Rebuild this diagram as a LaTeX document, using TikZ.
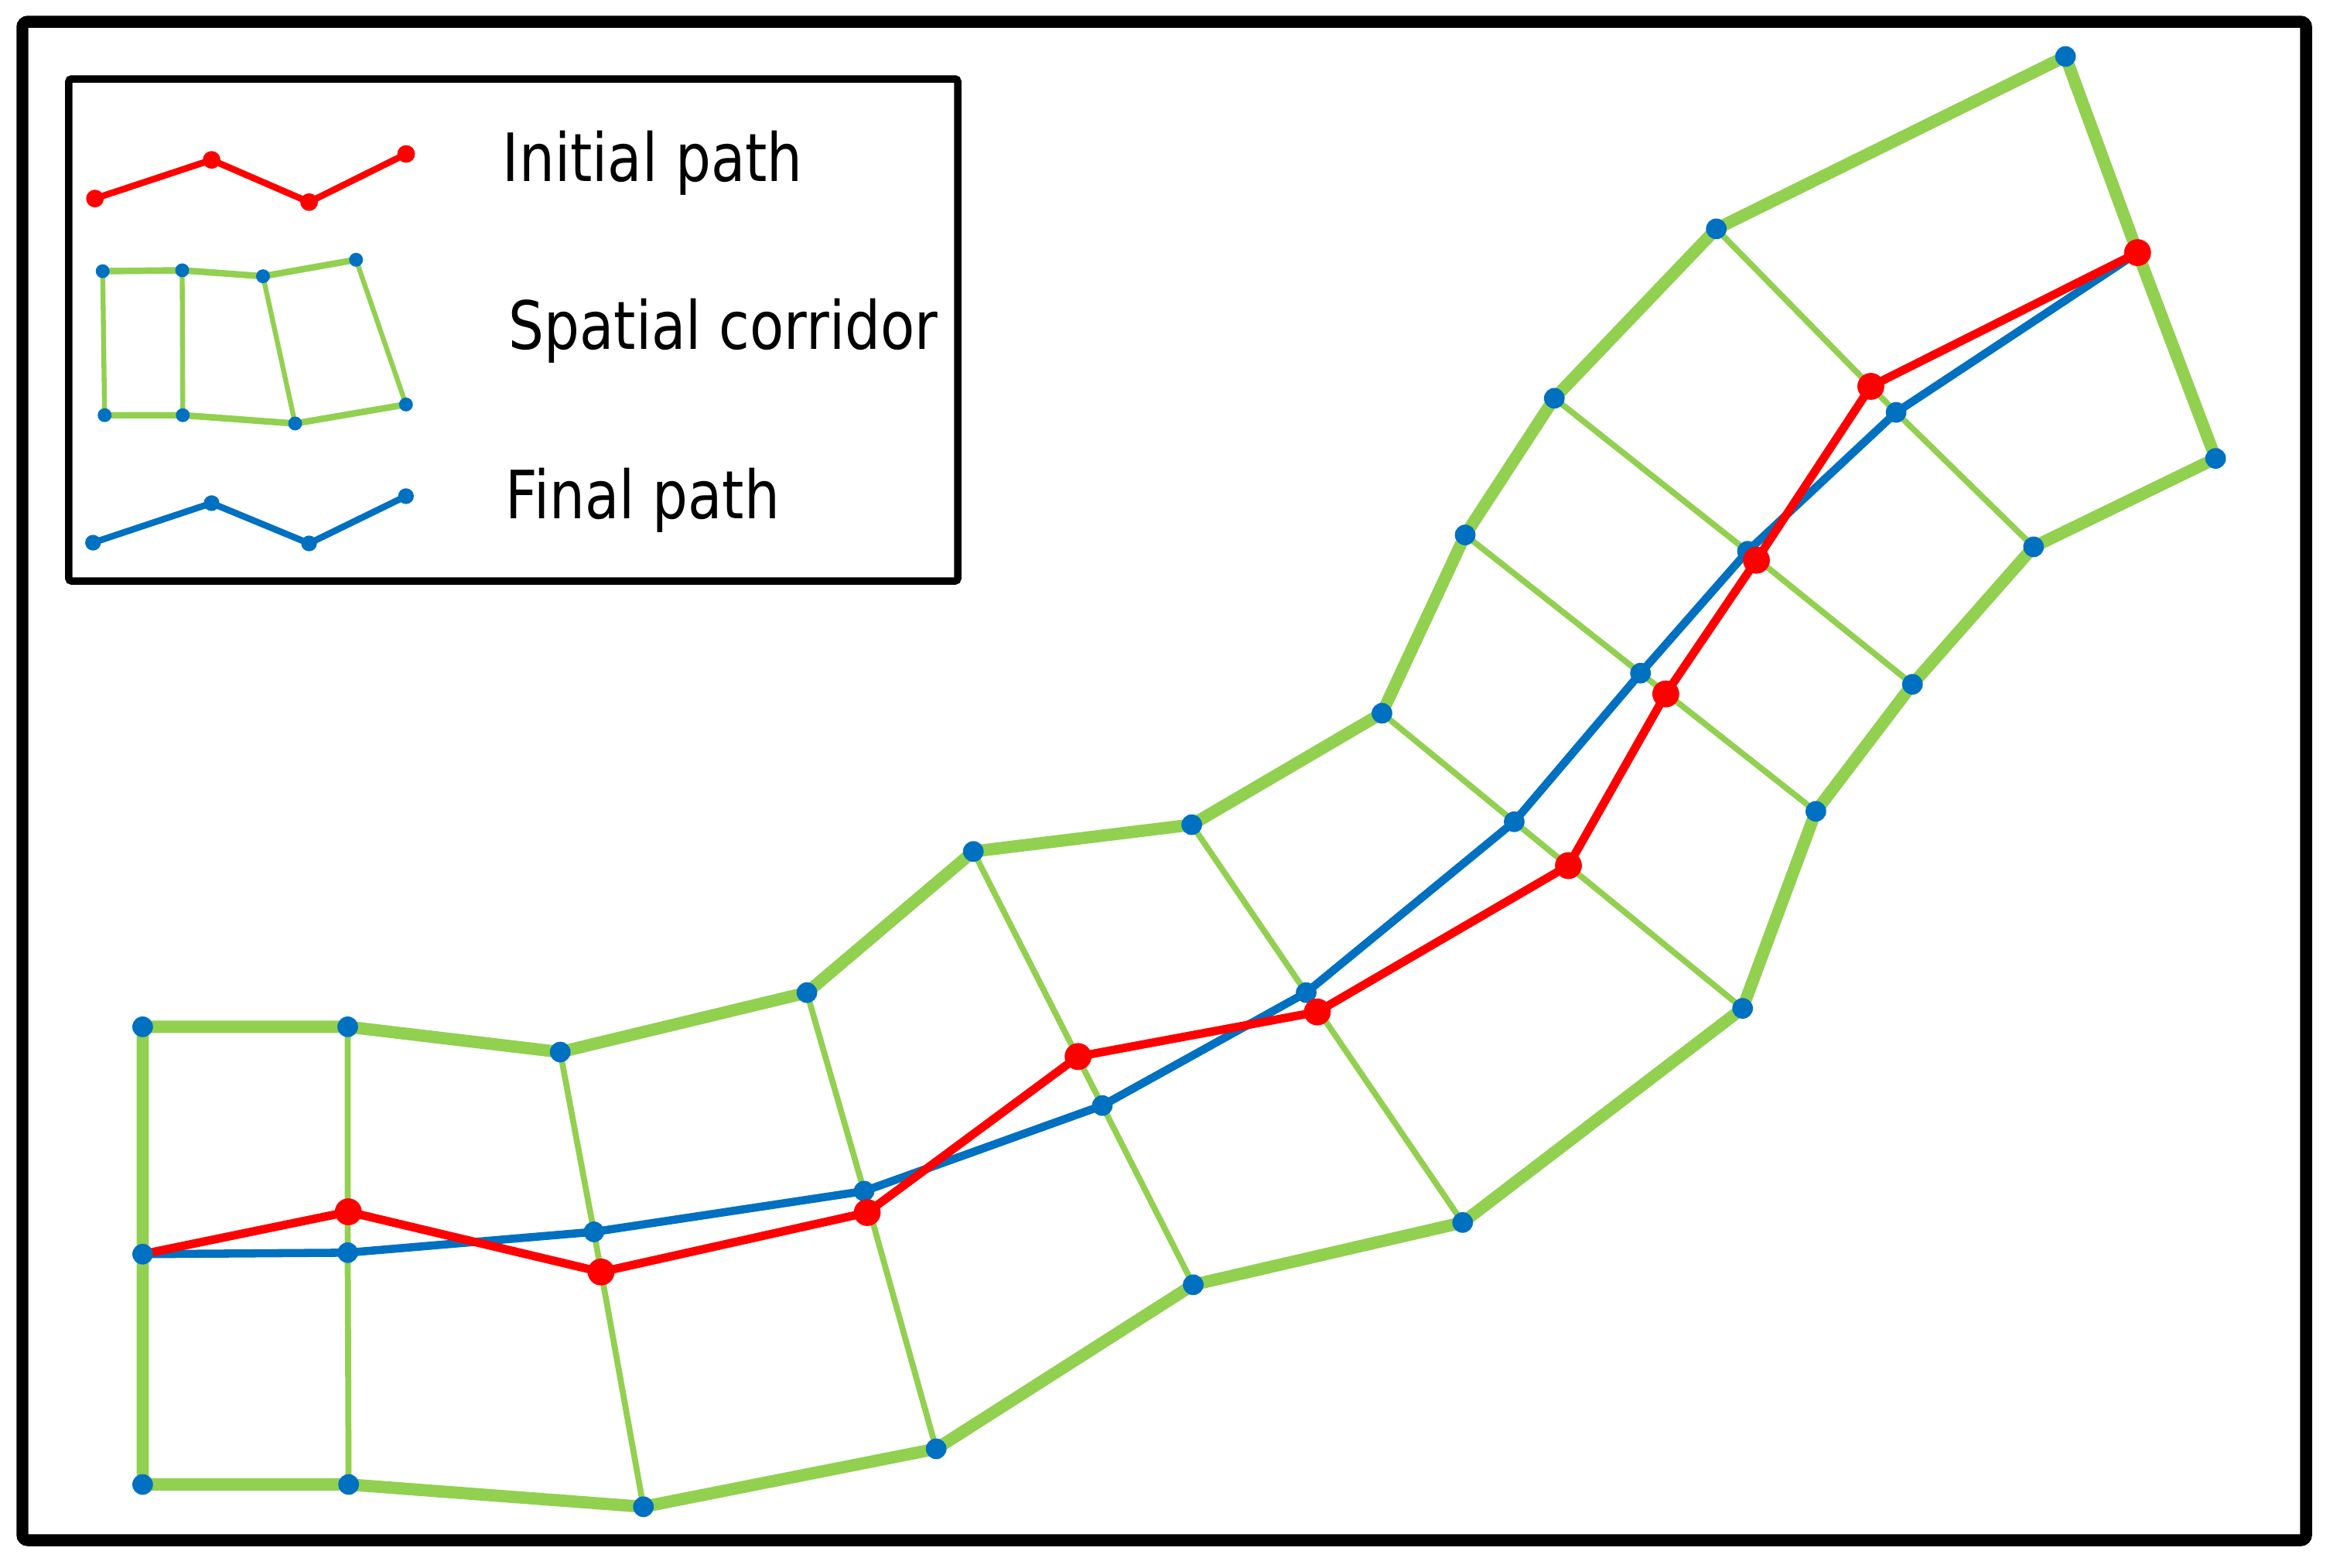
\documentclass[tikz,border=0pt]{standalone}
\usepackage{fontspec}
\newfontfamily\legfont{DejaVu Sans}[FakeStretch=0.84]
\definecolor{cgreen}{HTML}{92D050}
\definecolor{cblue}{HTML}{0070C0}
\definecolor{cred}{HTML}{FF0000}
\begin{document}
\begin{tikzpicture}[x=0.019209cm,y=-0.019209cm,
  frame/.style={draw=black,line width=4.4pt,rounded corners=2pt},
  legframe/.style={draw=black,line width=2.7pt,rounded corners=1pt},
  wall/.style={draw=cgreen,line width=4.5pt,line cap=round,line join=round},
  rung/.style={draw=cgreen,line width=2.2pt,line cap=round},
  bpath/.style={draw=cblue,line width=3.0pt,line cap=round,line join=round},
  rpath/.style={draw=cred,line width=3.1pt,line cap=round,line join=round},
  bdot/.style={circle,fill=cblue,inner sep=0pt,minimum size=7.6pt},
  rdot/.style={circle,fill=cred,inner sep=0pt,minimum size=9.9pt},
  lwall/.style={draw=cgreen,line width=2.4pt,line cap=round},
  lrung/.style={draw=cgreen,line width=1.8pt,line cap=round},
  lbpath/.style={draw=cblue,line width=2.4pt,line cap=round,line join=round},
  lrpath/.style={draw=cred,line width=2.4pt,line cap=round,line join=round},
  lcdot/.style={circle,fill=cblue,inner sep=0pt,minimum size=5.1pt},
  lbdot/.style={circle,fill=cblue,inner sep=0pt,minimum size=5.8pt},
  lrdot/.style={circle,fill=cred,inner sep=0pt,minimum size=6.5pt},
  legtext/.style={anchor=base west,inner sep=0pt,font=\legfont\fontsize{24.5pt}{28pt}\selectfont}]
\useasboundingbox (0,0) rectangle (1568,1054.7);
% outer frame
\draw[frame] (15.1,14.6) rectangle (1551.9,1036.5);
% corridor coordinates
\coordinate (t0) at (96,691);
\coordinate (t1) at (234,691);
\coordinate (t2) at (377,708);
\coordinate (t3) at (543,668);
\coordinate (t4) at (655,573);
\coordinate (t5) at (802,555);
\coordinate (t6) at (930,480);
\coordinate (t7) at (986,360);
\coordinate (t8) at (1046,268);
\coordinate (t9) at (1155,154);
\coordinate (t10) at (1390,38);
\coordinate (m0) at (96,844);
\coordinate (m1) at (234,843);
\coordinate (m2) at (399.7,829);
\coordinate (m3) at (581.5,801.6);
\coordinate (m4) at (741.8,744);
\coordinate (m5) at (879,668);
\coordinate (m6) at (1019,553);
\coordinate (m7) at (1104,453);
\coordinate (m8) at (1176,371);
\coordinate (m9) at (1276,277.5);
\coordinate (m10) at (1438.5,170);
\coordinate (b0) at (96,999);
\coordinate (b1) at (234.6,999);
\coordinate (b2) at (433,1014);
\coordinate (b3) at (630,975);
\coordinate (b4) at (803,864.6);
\coordinate (b5) at (984.3,822.7);
\coordinate (b6) at (1172.7,678.6);
\coordinate (b7) at (1222,546);
\coordinate (b8) at (1287,460.5);
\coordinate (b9) at (1368.5,368);
\coordinate (b10) at (1491,308.5);
% initial path points
\coordinate (r1) at (234.4,815.5);
\coordinate (r2) at (404.5,856);
\coordinate (r3) at (583.6,816);
\coordinate (r4) at (725.5,711);
\coordinate (r5) at (886.5,681);
\coordinate (r6) at (1055.5,582.5);
\coordinate (r7) at (1121,467);
\coordinate (r8) at (1182,377);
\coordinate (r9) at (1259,260);
% corridor rungs
\foreach \i in {1,...,9}{\draw[rung] (t\i) -- (m\i) -- (b\i);}
% corridor walls
\draw[wall] (b0) -- (m0) -- (t0) -- (t1) -- (t2) -- (t3) -- (t4) -- (t5) -- (t6) -- (t7) -- (t8) -- (t9) -- (t10) -- (m10) -- (b10) -- (b9) -- (b8) -- (b7) -- (b6) -- (b5) -- (b4) -- (b3) -- (b2) -- (b1) -- (b0);
% final path
\draw[bpath] (m0) -- (m1) -- (m2) -- (m3) -- (m4) -- (m5) -- (m6) -- (m7) -- (m8) -- (m9) -- (m10);
% initial path
\draw[rpath] (m0) -- (r1) -- (r2) -- (r3) -- (r4) -- (r5) -- (r6) -- (r7) -- (r8) -- (r9) -- (m10);
% dots
\foreach \n in {t0,t1,t2,t3,t4,t5,t6,t7,t8,t9,t10,m0,m1,m2,m3,m4,m5,m6,m7,m8,m9,b0,b1,b2,b3,b4,b5,b6,b7,b8,b9,b10}{\node[bdot] (\n d) at (\n) {};}
\foreach \n in {r1,r2,r3,r4,r5,r6,r7,r8,r9,m10}{\node[rdot] (\n rd) at (\n) {};}
% legend
\draw[legframe] (46.3,53.1) rectangle (644.5,391);
\coordinate (la1) at (63.9,133.6);
\coordinate (la2) at (142.4,107.6);
\coordinate (la3) at (208,136);
\coordinate (la4) at (273.3,103.6);
\draw[lrpath] (la1) -- (la2) -- (la3) -- (la4);
\foreach \n in {la1,la2,la3,la4}{\node[lrdot] (\n d) at (\n) {};}
\coordinate (lt1) at (69.1,182.5);
\coordinate (lt2) at (122.6,181.9);
\coordinate (lt3) at (177,185.9);
\coordinate (lt4) at (239.6,174.8);
\coordinate (lb1) at (70.4,279.4);
\coordinate (lb2) at (123,279.4);
\coordinate (lb3) at (198.6,285);
\coordinate (lb4) at (273.2,272.2);
\foreach \i in {1,...,4}{\draw[lrung] (lt\i) -- (lb\i);}
\draw[lwall] (lt1) -- (lt2) -- (lt3) -- (lt4);
\draw[lwall] (lb1) -- (lb2) -- (lb3) -- (lb4);
\foreach \n in {lt1,lt2,lt3,lt4,lb1,lb2,lb3,lb4}{\node[lcdot] (\n d) at (\n) {};}
\coordinate (lc1) at (62.6,365.2);
\coordinate (lc2) at (142.4,338.6);
\coordinate (lc3) at (208,365.7);
\coordinate (lc4) at (273.2,333.9);
\draw[lbpath] (lc1) -- (lc2) -- (lc3) -- (lc4);
\foreach \n in {lc1,lc2,lc3,lc4}{\node[lbdot] (\n d) at (\n) {};}
\node[legtext] (txt1) at (338,122) {Initial path};
\node[legtext] (txt2) at (342,235) {Spatial corridor};
\node[legtext] (txt3) at (340,349) {Final path};
\end{tikzpicture}
\end{document}
